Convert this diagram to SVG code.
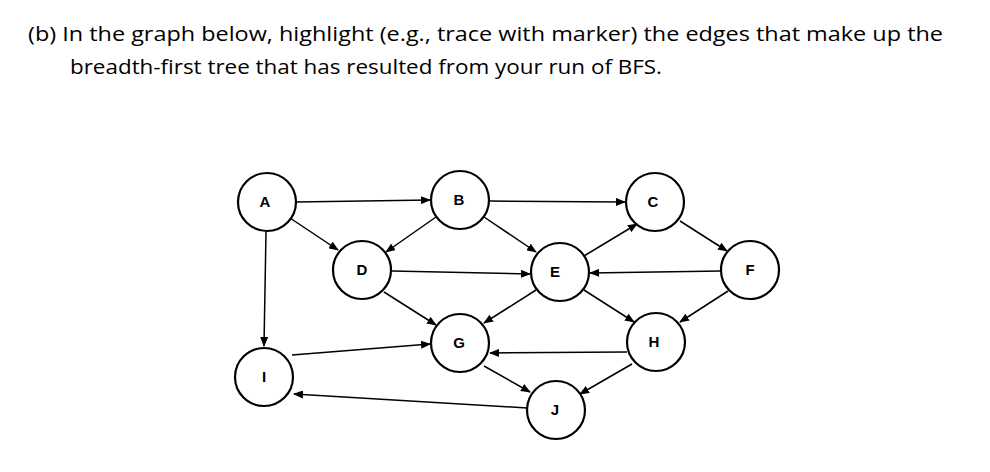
<svg xmlns="http://www.w3.org/2000/svg" width="990" height="472" viewBox="0 0 990 472">
<style>
.t{font-family:"Open Sans","Liberation Sans",sans-serif;font-size:20px;fill:#000}
.n circle{fill:#fff;stroke:#000;stroke-width:2.2}
.n text{font-family:"Liberation Sans",sans-serif;font-weight:bold;font-size:15px;text-anchor:middle;fill:#000}
.e line{stroke:#000;stroke-width:1.5;marker-end:url(#ah)}
</style>
<defs><marker id="ah" markerWidth="10" markerHeight="8" refX="9" refY="4" orient="auto" markerUnits="userSpaceOnUse"><path d="M0,0L10,4L0,8Z" fill="#000"/></marker></defs>
<rect width="990" height="472" fill="#fff"/>
<text class="t" x="28" y="41" textLength="915" lengthAdjust="spacingAndGlyphs">(b) In the graph below, highlight (e.g., trace with marker) the edges that make up the</text>
<text class="t" x="70" y="74" textLength="592" lengthAdjust="spacingAndGlyphs">breadth-first tree that has resulted from your run of BFS.</text>
<g class="e" id="edges">
<line x1="296" y1="202" x2="430" y2="200"/>
<line x1="290" y1="218" x2="338" y2="250"/>
<line x1="266" y1="232" x2="264" y2="346"/>
<line x1="436" y1="217" x2="386" y2="252"/>
<line x1="490" y1="201" x2="625" y2="202"/>
<line x1="484" y1="217" x2="536" y2="252"/>
<line x1="392" y1="271" x2="530" y2="274"/>
<line x1="384" y1="292" x2="436" y2="325"/>
<line x1="584" y1="256" x2="637" y2="224"/>
<line x1="536" y1="290" x2="484" y2="323"/>
<line x1="584" y1="290" x2="634" y2="322"/>
<line x1="680" y1="221" x2="727" y2="251"/>
<line x1="721" y1="271" x2="590" y2="273"/>
<line x1="728" y1="291" x2="680" y2="322"/>
<line x1="292" y1="355" x2="430" y2="344"/>
<line x1="627" y1="352" x2="490" y2="353"/>
<line x1="484" y1="366" x2="530" y2="392"/>
<line x1="632" y1="364" x2="580" y2="394"/>
<line x1="527" y1="408" x2="294" y2="394"/>
</g>
<g class="n" id="A"><circle cx="267" cy="202" r="29"/><text x="265" y="207">A</text></g>
<g class="n" id="B"><circle cx="460" cy="200" r="29"/><text x="459" y="205">B</text></g>
<g class="n" id="C"><circle cx="655" cy="202" r="29"/><text x="653" y="207">C</text></g>
<g class="n" id="D"><circle cx="362" cy="270" r="29"/><text x="362" y="275">D</text></g>
<g class="n" id="E"><circle cx="560" cy="272" r="29"/><text x="555" y="277">E</text></g>
<g class="n" id="F"><circle cx="750" cy="270" r="29"/><text x="750" y="275">F</text></g>
<g class="n" id="G"><circle cx="460" cy="343" r="29"/><text x="459" y="348">G</text></g>
<g class="n" id="H"><circle cx="656" cy="342" r="29"/><text x="654" y="347">H</text></g>
<g class="n" id="I"><circle cx="264" cy="377" r="29"/><text x="264" y="382">I</text></g>
<g class="n" id="J"><circle cx="556" cy="410" r="29"/><text x="555" y="415">J</text></g>
</svg>
